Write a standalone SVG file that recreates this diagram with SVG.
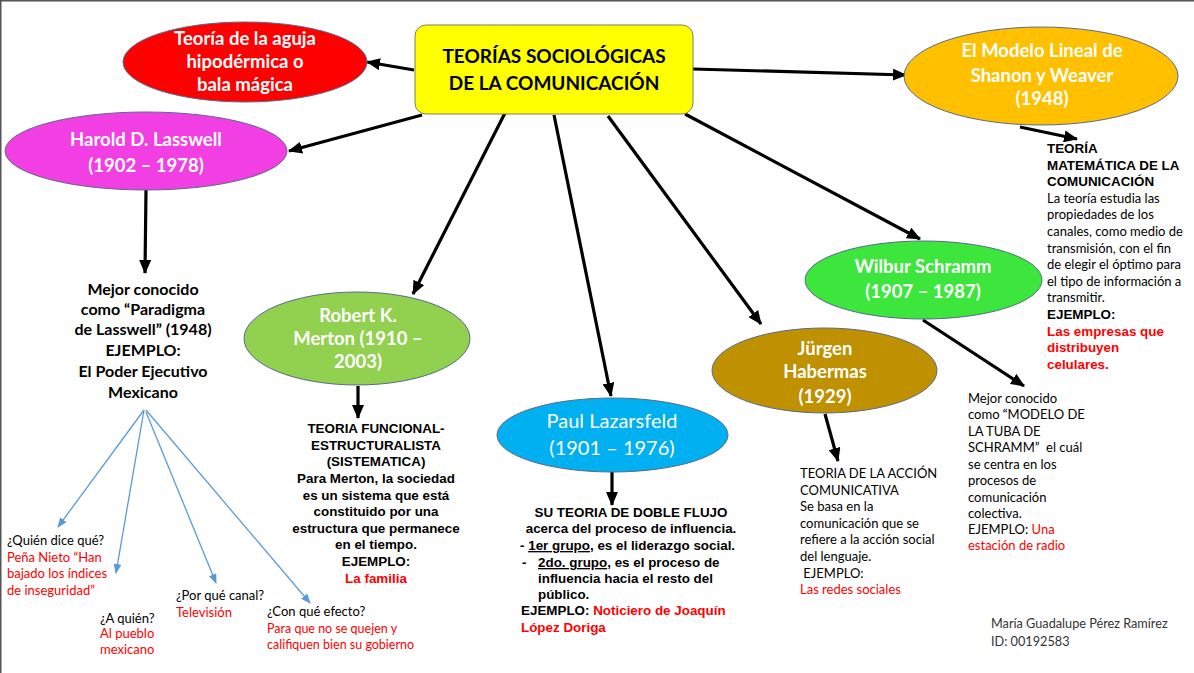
<svg xmlns="http://www.w3.org/2000/svg" width="1194" height="673" viewBox="0 0 1194 673">
<style>
.nd{font-family:Lato,"Open Sans",sans-serif;font-weight:bold;fill:#fff;font-size:18.5px;text-anchor:middle}
.ar{font-family:"Liberation Sans",Arial,sans-serif;font-weight:bold;font-size:13.4px;fill:#000}
.cb{font-family:Lato,"Open Sans",sans-serif;font-size:13px;fill:#000}
.red{fill:#FF0000}
.el{stroke:#5a6a8a;stroke-width:1}
.con{stroke:#000;stroke-width:3.2;fill:none;marker-end:url(#ah)}
.blu{stroke:#5B9BD5;stroke-width:1.3;fill:none;marker-end:url(#bh)}
</style>
<defs>
<marker id="ah" markerUnits="userSpaceOnUse" viewBox="0 0 14 12" refX="13" refY="6" markerWidth="14" markerHeight="12" orient="auto">
<path d="M0,0 L14,6 L0,12 z" fill="#000"/>
</marker>
<marker id="bh" markerUnits="userSpaceOnUse" viewBox="0 0 10 8" refX="9" refY="4" markerWidth="10" markerHeight="8" orient="auto">
<path d="M0,0 L10,4 L0,8 z" fill="#5B9BD5"/>
</marker>
</defs>
<rect x="0" y="0" width="1194" height="673" fill="#fff"/>
<line x1="0.75" y1="0" x2="0.75" y2="673" stroke="#555" stroke-width="1.5"/>
<line x1="0" y1="0.75" x2="1194" y2="0.75" stroke="#555" stroke-width="1.5"/>

<g id="connectors">
<line class="con" x1="414" y1="70" x2="367" y2="62"/>
<line class="con" x1="422" y1="115" x2="289" y2="151"/>
<line class="con" x1="693" y1="69" x2="906" y2="75"/>
<line class="con" x1="1020" y1="127" x2="1077" y2="139"/>
<line class="con" x1="685" y1="114" x2="920" y2="239"/>
<line class="con" x1="923" y1="320" x2="1024" y2="386"/>
<line class="con" x1="608" y1="116" x2="761" y2="324"/>
<line class="con" x1="825" y1="414" x2="838" y2="461"/>
<line class="con" x1="554" y1="115" x2="611" y2="396"/>
<line class="con" x1="612" y1="472" x2="612" y2="505"/>
<line class="con" x1="505" y1="113" x2="413" y2="294"/>
<line class="con" x1="358" y1="386" x2="358" y2="418"/>
<line class="con" x1="146" y1="190" x2="145" y2="273"/>
<line class="blu" x1="144" y1="410" x2="58" y2="527"/>
<line class="blu" x1="144" y1="410" x2="116" y2="573"/>
<line class="blu" x1="146" y1="412" x2="216" y2="583"/>
<line class="blu" x1="146" y1="410" x2="310" y2="603"/>
</g>

<g id="center">
<rect x="415" y="25" width="278" height="89" rx="11" fill="#FFFF00" stroke="#7f8060" stroke-width="1"/>
<text class="nd" style="fill:#000;font-size:19px" x="554" y="63">TEORÍAS SOCIOLÓGICAS</text>
<text class="nd" style="fill:#000;font-size:19px" x="554" y="90">DE LA COMUNICACIÓN</text>
</g>

<g id="aguja">
<ellipse class="el" cx="245" cy="62" rx="122" ry="40" fill="#FF0000"/>
<text class="nd" x="245" y="45">Teoría de la aguja</text>
<text class="nd" x="245" y="68">hipodérmica o</text>
<text class="nd" x="245" y="91">bala mágica</text>
</g>

<g id="lasswell">
<ellipse class="el" cx="146" cy="151" rx="141" ry="39" fill="#F23FE3"/>
<text class="nd" x="146" y="146">Harold D. Lasswell</text>
<text class="nd" x="146" y="172">(1902 – 1978)</text>
</g>

<g id="lasswell-text">
<text class="nd" style="fill:#000;font-size:16px" x="143" y="295">Mejor conocido</text>
<text class="nd" style="fill:#000;font-size:16px" x="143" y="315">como “Paradigma</text>
<text class="nd" style="fill:#000;font-size:16px" x="143" y="335">de Lasswell” (1948)</text>
<text class="nd" style="fill:#000;font-size:16px" x="143" y="356">EJEMPLO:</text>
<text class="nd" style="fill:#000;font-size:16px" x="143" y="377">El Poder Ejecutivo</text>
<text class="nd" style="fill:#000;font-size:16px" x="143" y="398">Mexicano</text>
</g>

<g id="questions">
<text class="cb" x="7" y="545">¿Quién dice qué?</text>
<text class="cb red" x="7" y="562">Peña Nieto “Han</text>
<text class="cb red" x="7" y="578">bajado los índices</text>
<text class="cb red" x="7" y="595">de inseguridad”</text>
<text class="cb" x="100" y="623">¿A quién?</text>
<text class="cb red" x="100" y="638">Al pueblo</text>
<text class="cb red" x="100" y="654">mexicano</text>
<text class="cb" x="176" y="600">¿Por qué canal?</text>
<text class="cb red" x="176" y="617">Televisión</text>
<text class="cb" x="267" y="616">¿Con qué efecto?</text>
<text class="cb red" style="font-size:12.5px" x="267" y="633">Para que no se quejen y</text>
<text class="cb red" style="font-size:12.5px" x="267" y="649">califiquen bien su gobierno</text>
</g>

<g id="merton">
<ellipse class="el" cx="357" cy="338.5" rx="113" ry="46.5" fill="#92D050"/>
<text class="nd" x="358" y="322">Robert K.</text>
<text class="nd" x="358" y="345">Merton (1910 –</text>
<text class="nd" x="358" y="368">2003)</text>
</g>

<g id="merton-text" text-anchor="middle">
<text class="ar" x="376" y="433">TEORIA FUNCIONAL-</text>
<text class="ar" x="376" y="450">ESTRUCTURALISTA</text>
<text class="ar" x="376" y="466">(SISTEMATICA)</text>
<text class="ar" x="376" y="483">Para Merton, la sociedad</text>
<text class="ar" x="376" y="500">es un sistema que está</text>
<text class="ar" x="376" y="516">constituido por una</text>
<text class="ar" x="376" y="533">estructura que permanece</text>
<text class="ar" x="376" y="549">en el tiempo.</text>
<text class="ar" x="376" y="566">EJEMPLO:</text>
<text class="ar red" x="376" y="583">La familia</text>
</g>

<g id="lazarsfeld">
<ellipse class="el" cx="612.5" cy="435" rx="115.5" ry="37" fill="#00B0F0"/>
<text class="nd" style="font-weight:normal;font-size:20px" x="612" y="428">Paul Lazarsfeld</text>
<text class="nd" style="font-weight:normal;font-size:20px" x="612" y="455">(1901 – 1976)</text>
</g>

<g id="lazarsfeld-text">
<text class="ar" x="631" y="517" text-anchor="middle">SU TEORIA DE DOBLE FLUJO</text>
<text class="ar" x="631" y="533" text-anchor="middle">acerca del proceso de influencia.</text>
<text class="ar" x="520" y="550">-  <tspan text-decoration="underline">1er grupo</tspan>, es el liderazgo social.</text>
<text class="ar" x="522" y="567">-</text>
<text class="ar" x="538" y="567"><tspan text-decoration="underline">2do. grupo</tspan>, es el proceso de</text>
<text class="ar" x="538" y="583">influencia hacia el resto del</text>
<text class="ar" x="538" y="599">público.</text>
<text class="ar" x="521" y="615">EJEMPLO: <tspan class="red">Noticiero de Joaquín</tspan></text>
<text class="ar red" x="521" y="632">López Doriga</text>
</g>

<g id="habermas">
<ellipse class="el" cx="824.5" cy="370.5" rx="112.5" ry="42.5" fill="#BF9000"/>
<text class="nd" x="825" y="355">Jürgen</text>
<text class="nd" x="825" y="378">Habermas</text>
<text class="nd" x="825" y="403">(1929)</text>
</g>

<g id="habermas-text">
<text class="cb" x="800" y="478">TEORIA DE LA ACCIÓN</text>
<text class="cb" x="800" y="495">COMUNICATIVA</text>
<text class="cb" x="800" y="511">Se basa en la</text>
<text class="cb" x="800" y="528">comunicación que se</text>
<text class="cb" x="800" y="544">refiere a la acción social</text>
<text class="cb" x="800" y="561">del lenguaje.</text>
<text class="cb" x="800" y="578" xml:space="preserve"> EJEMPLO:</text>
<text class="cb red" x="800" y="594">Las redes sociales</text>
</g>

<g id="schramm">
<ellipse class="el" cx="923.5" cy="280" rx="118.5" ry="39" fill="#3CE63C"/>
<text class="nd" x="923" y="273">Wilbur Schramm</text>
<text class="nd" x="923" y="298">(1907 – 1987)</text>
</g>

<g id="schramm-text">
<text class="cb" x="968" y="403">Mejor conocido</text>
<text class="cb" x="968" y="419">como “MODELO DE</text>
<text class="cb" x="968" y="436">LA TUBA DE</text>
<text class="cb" x="968" y="452" xml:space="preserve">SCHRAMM”  el cuál</text>
<text class="cb" x="968" y="469">se centra en los</text>
<text class="cb" x="968" y="485">procesos de</text>
<text class="cb" x="968" y="502">comunicación</text>
<text class="cb" x="968" y="518">colectiva.</text>
<text class="cb" x="968" y="534">EJEMPLO: <tspan class="red">Una</tspan></text>
<text class="cb red" x="968" y="550">estación de radio</text>
</g>

<g id="shannon">
<ellipse class="el" cx="1041" cy="76" rx="137" ry="49" fill="#FFC000"/>
<text class="nd" x="1042" y="57">El Modelo Lineal de</text>
<text class="nd" x="1042" y="82">Shanon y Weaver</text>
<text class="nd" x="1042" y="105">(1948)</text>
</g>

<g id="shannon-text">
<text class="ar" x="1047" y="153">TEORÍA</text>
<text class="ar" x="1047" y="170">MATEMÁTICA DE LA</text>
<text class="ar" x="1047" y="186">COMUNICACIÓN</text>
<text class="cb" x="1047" y="203">La teoría estudia las</text>
<text class="cb" x="1047" y="219">propiedades de los</text>
<text class="cb" x="1047" y="236">canales, como medio de</text>
<text class="cb" x="1047" y="253">transmisión, con el fin</text>
<text class="cb" x="1047" y="269">de elegir el óptimo para</text>
<text class="cb" x="1047" y="286">el tipo de información a</text>
<text class="cb" x="1047" y="302">transmitir.</text>
<text class="ar" x="1047" y="319">EJEMPLO:</text>
<text class="ar red" x="1047" y="336">Las empresas que</text>
<text class="ar red" x="1047" y="352">distribuyen</text>
<text class="ar red" x="1047" y="369">celulares.</text>
</g>

<g id="author">
<text class="cb" style="fill:#333;font-size:12.7px" x="991" y="628">María Guadalupe Pérez Ramírez</text>
<text class="cb" style="fill:#333;font-size:12.7px" x="991" y="646">ID: 00192583</text>
</g>
</svg>
